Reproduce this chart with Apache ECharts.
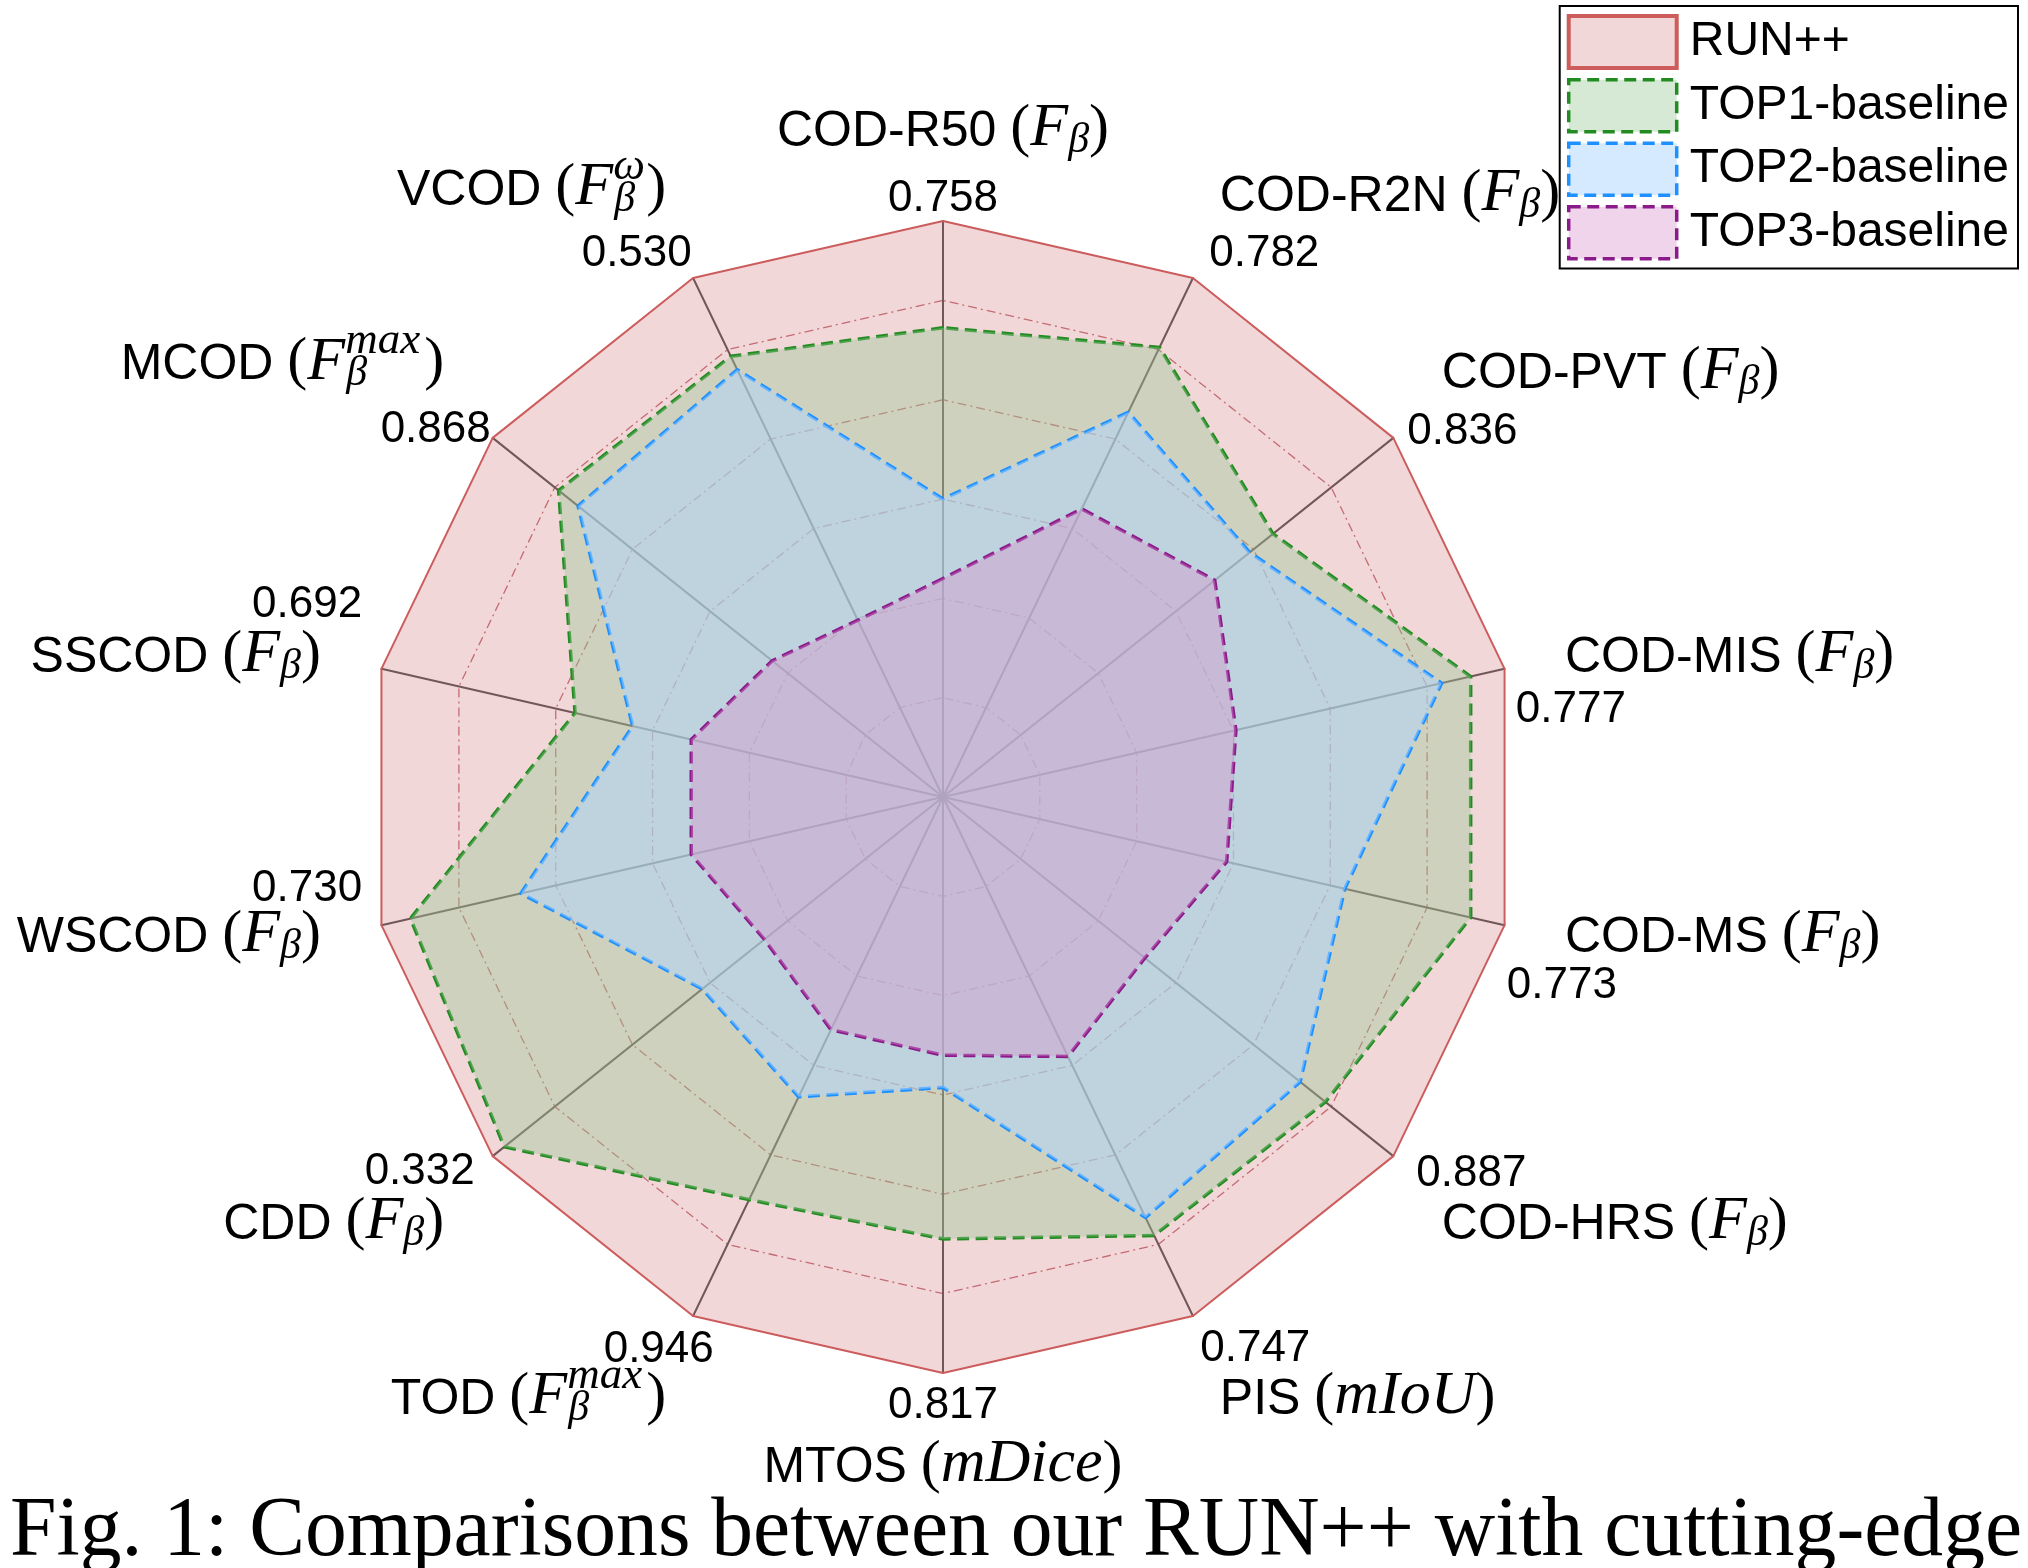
<!DOCTYPE html>
<html><head><meta charset="utf-8">
<script src="https://cdn.jsdelivr.net/npm/echarts@6/dist/echarts.min.js"></script>
<style>html,body{margin:0;padding:0;background:#fff}#c{width:2028px;height:1568px}</style>
</head><body><div id="c"></div>
<script>
// ---------------- data ----------------
const categories = ['COD-R50','COD-R2N','COD-PVT','COD-MIS','COD-MS','COD-HRS','PIS','MTOS','TOD','CDD','WSCOD','SSCOD','MCOD','VCOD'];
const metrics    = ['Fb','Fb','Fb','Fb','Fb','Fb','mIoU','mDice','Fbmax','Fb','Fb','Fb','Fbmax','Fbw'];
const runScores  = ['0.758','0.782','0.836','0.777','0.773','0.887','0.747','0.817','0.946','0.332','0.730','0.692','0.868','0.530'];
const seriesNames = ['RUN++','TOP1-baseline','TOP2-baseline','TOP3-baseline'];
// normalised radial values (grid rings at 0.2 steps)
const runPP = [1.16,1.16,1.16,1.16,1.16,1.16,1.16,1.16,1.16,1.16,1.16,1.16,1.16,1.16];
const top1  = [0.945,1.005,0.85,1.09,1.09,0.985,0.98,0.89,0.90,1.13,1.10,0.76,0.99,0.985];
const top2  = [0.60,0.86,0.79,1.03,0.83,0.92,0.94,0.585,0.67,0.62,0.872,0.641,0.94,0.955];
const top3  = [0.44,0.644,0.70,0.605,0.586,0.52,0.58,0.52,0.52,0.46,0.52,0.52,0.44,0.395];
const radialMax = 1.16;
const gridMax = 1.2;
const gridSplits = 6;

// ---------------- layout / style ----------------
const CX = 943, CY = 797, R = 576;
const nameShift  = [[0,0],[0,-28],[0,-28],[0,0],[0,-4],[0,27],[0,25],[0,0],[0,25],[0,27],[0,-4],[0,0],[0,-37],[0,-34]];
const valueShift = [[0,-51],[38,-73],[53,-41],[60,26],[51,68],[62,45],[29,74],[0,54],[-1,75],[-57,43],[-68,-29],[-68,-79],[-41,-43],[-23,-73]];
const colors = ['#CD5C5C','#228B22','#1E90FF','#8B1A8B'];
const fills  = ['rgba(205,96,100,0.25)','rgba(152,201,150,0.4)','rgba(174,214,255,0.5)','rgba(215,147,204,0.4)'];
const dash = [12,6.5];
const ringColor = '#c07078';

// ECharts radar runs counter-clockwise: reverse order to get clockwise layout
const n = categories.length;
const order = categories.map((_, j) => (n - j) % n);
const reorder = arr => order.map(k => arr[k]);

function sideOf(k){ return k === 0 ? 'top' : (k === n/2 ? 'bottom' : (k < n/2 ? 'right' : 'left')); }

function wrap(prefix, k, core, shift, rich){
  const [dx, dy] = shift;
  const side = sideOf(k);
  let line = core;
  const hk = prefix + 'h' + k, vk = prefix + 'v' + k;
  const sp = (w, h) => ({fontSize:1, lineHeight:h, width:w, align:'left'});
  if (side === 'right' && dx > 0) { line = '{' + hk + '| }' + line; rich[hk] = sp(dx, 1); }
  if (side === 'left' && dx < 0)  { line = line + '{' + hk + '| }'; rich[hk] = sp(-dx, 1); }
  if ((side === 'top' || side === 'bottom') && dx !== 0) {
    rich[hk] = sp(Math.abs(2*dx), 1);
    line = dx > 0 ? '{' + hk + '| }' + line : line + '{' + hk + '| }';
  }
  if (side === 'right' || side === 'left') {
    if (dy > 0) { rich[vk] = sp(1, 2*dy); line = '{' + vk + '| }\n' + line; }
    if (dy < 0) { rich[vk] = sp(1, -2*dy); line = line + '\n{' + vk + '| }'; }
  } else if (side === 'top' && dy < 0) {
    rich[vk] = sp(1, -dy); line = line + '\n{' + vk + '| }';
  } else if (side === 'bottom' && dy > 0) {
    rich[vk] = sp(1, dy); line = '{' + vk + '| }\n' + line;
  }
  return line;
}

const serifI = {fontFamily:'Liberation Serif', fontStyle:'italic', lineHeight:60, color:'#000', align:'left'};
const nameRich = {
  nm:  {fontFamily:'Liberation Sans', fontSize:50, lineHeight:60, color:'#000', align:'left', padding:[6,0,0,0]},
  pa:  {fontFamily:'Liberation Serif', fontSize:60, lineHeight:60, color:'#000', align:'left'},
  mi:  Object.assign({}, serifI, {fontSize:62}),
  sb:  Object.assign({}, serifI, {fontSize:42, padding:[24,0,0,0]}),
  sbx: Object.assign({}, serifI, {fontSize:42, padding:[24,0,0,0], width:78}),
  sbw: Object.assign({}, serifI, {fontSize:42, padding:[24,0,0,0], width:32}),
  sp:  Object.assign({}, serifI, {fontSize:45, padding:[0,0,42,0], width:1})
};
const metricText = {
  Fb:    '{pa|(}{mi|F}{sb|β}{pa|)}',
  Fbmax: '{pa|(}{mi|F}{sp|max}{sbx|β}{pa|)}',
  Fbw:   '{pa|(}{mi|F}{sp|ω}{sbw|β}{pa|)}',
  mIoU:  '{pa|(}{mi|mIoU}{pa|)}',
  mDice: '{pa|(}{mi|mDice}{pa|)}'
};
const valueRich = {
  vl: {fontFamily:'Liberation Sans', fontSize:44, lineHeight:50, color:'#000', align:'left', padding:[8,0,0,0]}
};
const nameLabels = {}, valueLabels = {};
categories.forEach((c, k) => {
  nameLabels[c] = wrap('n', k, '{nm|' + c + ' }' + metricText[metrics[k]], nameShift[k], nameRich);
  valueLabels[runScores[k]] = wrap('v', k, '{vl|' + runScores[k] + '}', valueShift[k], valueRich);
});

const ringColors = [];
for (let i = 0; i < gridSplits; i++) ringColors.push(ringColor);
ringColors.push('rgba(0,0,0,0)');

const chart = echarts.init(document.getElementById('c'), null, {renderer:'canvas'});
const seriesData = [runPP, top1, top2, top3];
chart.setOption({
  animation: false,
  backgroundColor: '#fff',
  title: {
    text: 'Fig. 1: Comparisons between our RUN++ with cutting-edge',
    left: 10, top: 1491, padding: 0,
    textStyle: {fontFamily:'Liberation Serif', fontSize:83.6, fontWeight:'normal', color:'#000', lineHeight:84}
  },
  legend: {
    orient:'vertical', right:10, top:6, itemWidth:108, itemHeight:52, itemGap:8,
    padding:[8,9,8,7], borderColor:'#000', borderWidth:2, backgroundColor:'#fff',
    icon:'rect', selectedMode:false,
    formatter: '{t|{name}}',
    textStyle:{fontFamily:'Liberation Sans', fontSize:48, color:'#000',
      rich:{t:{fontFamily:'Liberation Sans', fontSize:48, color:'#000', padding:[0,0,0,8]}}},
    data: seriesNames.map((s, i) => ({
      name: s,
      itemStyle: {color: fills[i], borderColor: colors[i], borderWidth: i === 0 ? 4 : 3.5, borderType: i === 0 ? 'solid' : dash}
    }))
  },
  radar: [
    { // grid rings
      center:[CX, CY], radius: R * gridMax / radialMax, startAngle: 90, shape:'polygon',
      splitNumber: gridSplits,
      indicator: reorder(categories).map(c => ({name: c, min: 0, max: gridMax})),
      axisName:{show:false}, axisLine:{show:false}, axisTick:{show:false}, axisLabel:{show:false},
      splitArea:{show:false},
      splitLine:{show:true, lineStyle:{color: ringColors, width:1.3, type:[9,4,2,4]}}
    },
    { // spokes + names
      center:[CX, CY], radius: R, startAngle: 90, shape:'polygon', splitNumber: 1,
      indicator: reorder(categories).map(c => ({name: c, min: 0, max: radialMax})),
      nameGap: 62,
      axisName:{show:true, formatter: (name) => nameLabels[name], rich: nameRich, color:'#000'},
      axisLine:{show:true, lineStyle:{color:'#555', width:2}},
      axisTick:{show:false}, axisLabel:{show:false},
      splitArea:{show:false}, splitLine:{show:false}
    },
    { // RUN++ score labels
      center:[CX, CY], radius: R, startAngle: 90, shape:'polygon', splitNumber: 1,
      indicator: reorder(runScores).map(c => ({name: c, min: 0, max: radialMax})),
      nameGap: -50,
      axisName:{show:true, formatter: (name) => valueLabels[name], rich: valueRich, color:'#000'},
      axisLine:{show:false}, axisTick:{show:false}, axisLabel:{show:false},
      splitArea:{show:false}, splitLine:{show:false}
    }
  ],
  series: seriesNames.map((s, i) => ({
    type:'radar', name: s, radarIndex: 1, symbol:'none', silent:true,
    lineStyle:{color: colors[i], width: i === 0 ? 2 : 3.5, type: i === 0 ? 'solid' : dash},
    areaStyle:{color: fills[i], opacity: 1},
    itemStyle:{color: colors[i]},
    emphasis:{disabled:true},
    data:[{name: s, value: reorder(seriesData[i])}]
  }))
});
</script></body></html>
